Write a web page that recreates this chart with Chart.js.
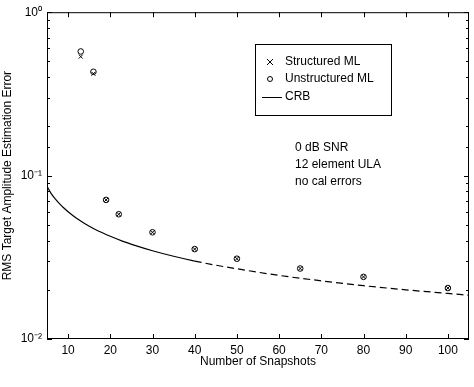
<!DOCTYPE html>
<html>
<head>
<meta charset="utf-8">
<script src="https://cdn.jsdelivr.net/npm/chart.js@4/dist/chart.umd.min.js"></script>
<style>
  body { margin: 0; background: #fff; }
  #wrap { width: 474px; height: 387px; }
</style>
</head>
<body>
<div id="wrap"><canvas id="rms-chart" width="474" height="387"></canvas></div>
<script>
// values
const snapshots = [13, 16, 19, 22, 30, 40, 50, 65, 80, 100];
const structuredML = [0.535, 0.42, 0.071, 0.058, 0.045, 0.0355, 0.031, 0.027, 0.024, 0.0205];
const unstructuredML = [0.575, 0.432, 0.071, 0.058, 0.045, 0.0355, 0.031, 0.027, 0.024, 0.0205];
const crbN = [5, 6, 7, 8, 9, 10, 12, 14, 16, 18, 20, 23, 26, 30, 35, 40, 45, 50, 60, 70, 80, 90, 100, 105];
const crbVals = [0.086, 0.0776, 0.0718, 0.0672, 0.0633, 0.0601, 0.0548, 0.0508, 0.0475, 0.0448, 0.0425,
                 0.0396, 0.0373, 0.0347, 0.0321, 0.0300, 0.0283, 0.0269, 0.0245, 0.0227, 0.0212, 0.0200, 0.0190, 0.0185];
const xTicks = [10, 20, 30, 40, 50, 60, 70, 80, 90, 100];
const legendLabels = ["Structured ML", "Unstructured ML", "CRB"];
const noteLines = ["0 dB SNR", "12 element ULA", "no cal errors"];

const FONT = "'Liberation Sans', Arial, sans-serif";

function toPoints(xs, ys){
    return xs.map((x, i) => ({x: x, y: ys[i]}));
}

function supLabel(v){
    const sup = {"0": "\u2070", "1": "\u00b9", "2": "\u00b2", "-": "\u207b"};
    const e = Math.round(Math.log10(v));
    return "10" + String(e).split("").map(c => sup[c]).join("");
}

// inward tick marks on all four sides + legend box + note text
const extras = {
    id: "extras",
    afterDraw(chart){
        const ctx = chart.ctx;
        const a = chart.chartArea;
        const xs = chart.scales.x;
        const ys = chart.scales.y;
        ctx.save();
        ctx.strokeStyle = "#000";
        ctx.lineWidth = 1;
        ctx.strokeRect(a.left + 0.5, a.top + 0.5, a.right - a.left - 1, a.bottom - a.top - 1);
        ctx.beginPath();
        xs.ticks.forEach(t => {
            const px = Math.round(xs.getPixelForValue(t.value)) + 0.5;
            ctx.moveTo(px, a.bottom); ctx.lineTo(px, a.bottom - 5);
            ctx.moveTo(px, a.top); ctx.lineTo(px, a.top + 5);
        });
        ys.ticks.forEach(t => {
            const major = Math.abs(Math.log10(t.value) - Math.round(Math.log10(t.value))) < 1e-6;
            const len = major ? 5 : 3;
            const py = Math.round(ys.getPixelForValue(t.value)) + 0.5;
            ctx.moveTo(a.left, py); ctx.lineTo(a.left + len, py);
            ctx.moveTo(a.right, py); ctx.lineTo(a.right - len, py);
        });
        ctx.stroke();

        // legend
        const lx = 255, ly = 44, lw = 136, lh = 71;
        ctx.strokeRect(lx + 0.5, ly + 0.5, lw, lh);
        ctx.font = "12px " + FONT;
        ctx.fillStyle = "#000";
        ctx.textBaseline = "middle";
        const rows = [ly + 18, ly + 35, ly + 53];
        legendLabels.forEach((lab, i) => ctx.fillText(lab, lx + 30, rows[i]));
        // cross
        ctx.beginPath();
        ctx.moveTo(lx + 12, rows[0] - 3); ctx.lineTo(lx + 18, rows[0] + 3);
        ctx.moveTo(lx + 18, rows[0] - 3); ctx.lineTo(lx + 12, rows[0] + 3);
        ctx.stroke();
        // circle
        ctx.beginPath();
        ctx.arc(lx + 15, rows[1], 2.5, 0, Math.PI * 2);
        ctx.stroke();
        // line
        ctx.beginPath();
        ctx.moveTo(lx + 7, rows[2] + 0.5); ctx.lineTo(lx + 27, rows[2] + 0.5);
        ctx.stroke();

        // note text
        noteLines.forEach((t, i) => ctx.fillText(t, 295, 148 + i * 17));
        ctx.restore();
    }
};

new Chart(document.querySelector("#rms-chart"), {
    type: "scatter",
    data: {
        datasets: [
            {
                label: "CRB",
                type: "line",
                data: toPoints(crbN, crbVals),
                borderColor: "#000",
                borderWidth: 1.2,
                pointRadius: 0,
                cubicInterpolationMode: "monotone",
                fill: false,
                segment: {
                    borderDash: c => (c.p0.parsed.x >= 40 ? [7, 4] : undefined)
                }
            },
            {
                label: "Structured ML",
                data: toPoints(snapshots, structuredML),
                pointStyle: "crossRot",
                pointRadius: 2.8,
                borderColor: "#000",
                borderWidth: 1,
                backgroundColor: "#000"
            },
            {
                label: "Unstructured ML",
                data: toPoints(snapshots, unstructuredML),
                pointStyle: "circle",
                pointRadius: 2.8,
                borderColor: "#000",
                borderWidth: 1,
                backgroundColor: "rgba(0,0,0,0)"
            }
        ]
    },
    options: {
        responsive: false,
        animation: false,
        layout: { padding: { top: 8, right: 1, left: 0, bottom: 18 } },
        plugins: {
            legend: { display: false },
            tooltip: { enabled: false }
        },
        scales: {
            x: {
                type: "linear",
                min: 5,
                max: 105,
                afterBuildTicks: s => { s.ticks = xTicks.map(v => ({value: v})); },
                afterFit: s => { s.height = 30; },
                grid: { display: false, drawTicks: false },
                border: { display: false },
                ticks: {
                    color: "#000",
                    padding: 4,
                    font: { family: FONT, size: 12 },
                    maxRotation: 0
                },
                title: {
                    display: true,
                    text: "Number of Snapshots",
                    color: "#000",
                    font: { family: FONT, size: 12 },
                    padding: { top: 0, bottom: 0 }
                }
            },
            y: {
                type: "logarithmic",
                min: 0.01,
                max: 1,
                afterFit: s => { s.width = 47; },
                grid: { display: false, drawTicks: false },
                border: { display: false },
                ticks: {
                    color: "#000",
                    padding: 5,
                    autoSkip: false,
                    font: { family: FONT, size: 12 },
                    callback: v => {
                        const l = Math.log10(v);
                        return Math.abs(l - Math.round(l)) < 1e-6 ? supLabel(v) : "";
                    }
                },
                title: {
                    display: true,
                    text: "RMS Target Amplitude Estimation Error",
                    color: "#000",
                    font: { family: FONT, size: 12 },
                    padding: { top: 0, bottom: 0 }
                }
            }
        }
    },
    plugins: [extras]
});
</script>
</body>
</html>
